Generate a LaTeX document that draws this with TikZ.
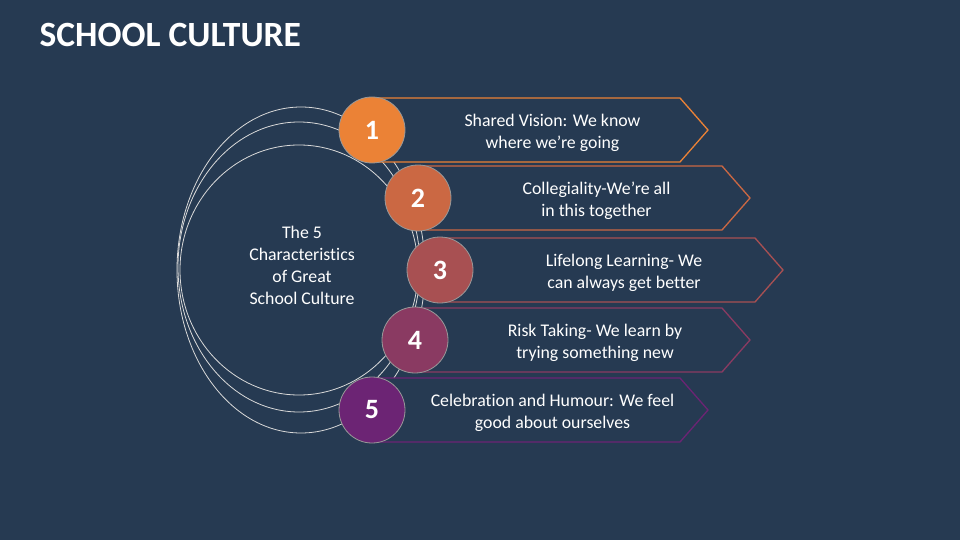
\documentclass[tikz,border=0pt]{standalone}
\usepackage{fontspec}
\setmainfont{Carlito}[Ligatures=NoCommon]
\begin{document}
\begin{tikzpicture}[x=1pt,y=-1pt,
  arc/.style={draw=white!85!black, line width=0.8pt},
  num/.style={circle, minimum size=66pt, inner sep=0pt, draw=black!40, line width=0.8pt, text=white, font=\bfseries\fontsize{28}{28}\selectfont},
  lbl/.style={text=white, align=center, font=\fontsize{17.8}{22}\selectfont}]
\definecolor{bg}{HTML}{263A52}
\definecolor{c1}{HTML}{EB8236}
\definecolor{c2}{HTML}{CB6843}
\definecolor{c3}{HTML}{A85052}
\definecolor{c4}{HTML}{8A3A62}
\definecolor{c5}{HTML}{6C2474}
\fill[bg] (0,0) rectangle (960,540);
\useasboundingbox (0,0) rectangle (960,540);
\node[anchor=west, text=white, font=\bfseries\fontsize{35.5}{36}\selectfont] (title) at (36,35) {SCHOOL CULTURE};
\draw[arc] (301,270) ellipse [x radius=124, y radius=163];
\draw[arc] (299,267) ellipse [x radius=121, y radius=145];
\draw[arc] (299,270) ellipse [x radius=119, y radius=125];
\node[lbl] (center) at (302,265) {The 5\\Characteristics\\of Great\\School Culture};
\foreach \i/\cx/\cy/\r/\c/\t in {
 1/372/130/680/c1/{Shared Vision: We know\\where we’re going},
 2/418/198/722/c2/{Collegiality-We’re all\\in this together},
 3/440/270/755/c3/{Lifelong Learning- We\\can always get better},
 4/415/340/722/c4/{Risk Taking- We learn by\\trying something new},
 5/372/410/680/c5/{Celebration and Humour: We feel\\good about ourselves}}{
  \draw[\c, line width=1.3pt, fill=bg] (\cx,\cy-32) -- (\r,\cy-32) -- (\r+28,\cy) -- (\r,\cy+32) -- (\cx,\cy+32);
  \node[num, fill=\c] (n\i) at (\cx,\cy) {\i};
  \node[lbl] (t\i) at ({(\cx+33+\r)/2+10},\cy+2.5) {\t};
}
\end{tikzpicture}
\end{document}
